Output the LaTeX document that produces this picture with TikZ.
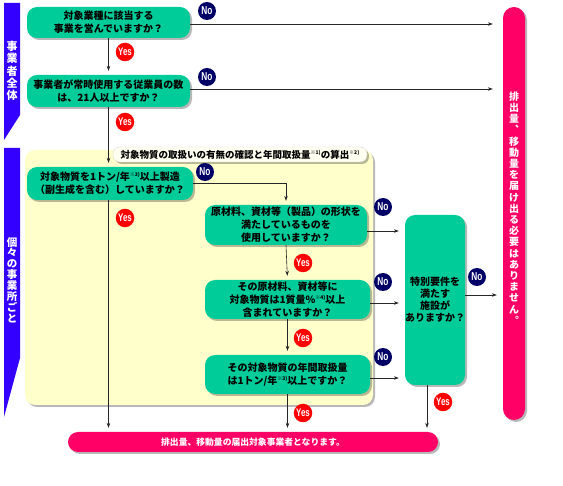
\documentclass[tikz,border=0pt]{standalone}
\usepackage{fontspec}
\setmainfont{Noto Sans CJK JP}
\newfontfamily\latinfont{Liberation Sans}
\usetikzlibrary{shadows,arrows.meta,calc}
\definecolor{boxgreen}{HTML}{00CC99}
\definecolor{pinkred}{HTML}{FF0066}
\definecolor{sideblue}{HTML}{3300FF}
\definecolor{navyblue}{HTML}{000066}
\definecolor{yesred}{HTML}{FF0000}
\definecolor{paleyellow}{HTML}{FFFFCC}
\definecolor{labelfill}{HTML}{FFFFF2}
\newcommand\noteup[1]{\raisebox{0.75ex}{\fontsize{5}{5}\selectfont #1}}
\newcommand\bub[1]{\scalebox{0.72}[1]{#1}}
\begin{document}
\begin{tikzpicture}[x=1pt,y=-1pt,
  shad/.style={drop shadow={shadow xshift=2pt,shadow yshift=-2pt,fill=black,opacity=0.28}},
  qbox/.style={fill=boxgreen, rounded corners=10pt, align=center, inner sep=0pt,
    font=\fontsize{10}{13}\selectfont\bfseries, shad},
  nobub/.style={circle, fill=navyblue, text=white, minimum size=18pt, inner sep=0pt,
    font=\latinfont\bfseries\fontsize{11.5}{11.5}\selectfont},
  yesbub/.style={circle, fill=yesred, text=white, minimum size=18.5pt, inner sep=0pt,
    font=\latinfont\bfseries\fontsize{11}{11}\selectfont},
  arr/.style={draw=black!85, line width=0.6pt, -{Stealth[length=5pt,width=3.6pt]}, shorten >=4pt},
  vtext/.style={text=white, align=center, inner sep=0pt, font=\bfseries},
]
\useasboundingbox (0,0) rectangle (563,486);

% side bars
\fill[sideblue] (4,3) -- (20,3) -- (20,115) -- (4,140) -- cycle;
\fill[sideblue] (4,148) -- (20,148) -- (20,358) -- (4,417) -- cycle;
\node[vtext, font=\fontsize{11}{12.2}\selectfont\bfseries] (side1) at (12,71) {事\\業\\者\\全\\体};
\node[vtext, font=\fontsize{10.5}{10.9}\selectfont\bfseries] (side2) at (12,280) {個\\々\\の\\事\\業\\所\\ご\\と};

% yellow region
\node[fill=paleyellow, rounded corners=10pt, minimum width=348pt, minimum height=255pt, shad] (yel) at (199,277.5) {};
\node[fill=labelfill, draw=black!15, rounded corners=7pt, minimum width=254pt, minimum height=15pt, inner sep=0pt,
  font=\fontsize{9.5}{10}\selectfont\bfseries, shad] (title) at (240,154.5)
  {対象物質の取扱いの有無の確認と年間取扱量\noteup{※1)}の算出\noteup{※2)}};

% right bar
\node[fill=pinkred, rounded corners=11pt, minimum width=22pt, minimum height=413pt, shad] (nores) at (514,213.5) {};
\node[vtext, font=\fontsize{10}{11.2}\selectfont\bfseries] (noresT) at (514,208)
  {排\\出\\量\\︑\\移\\動\\量\\を\\届\\け\\出\\る\\必\\要\\は\\あ\\り\\ま\\せ\\ん\\︒};

% question boxes
\node[qbox, minimum width=163pt, minimum height=31pt] (b1) at (108.5,22.5) {対象業種に該当する\\事業を営んでいますか？};
\node[qbox, minimum width=163pt, minimum height=32pt] (b2) at (108.5,91) {事業者が常時使用する従業員の数\\は、21人以上ですか？};
\node[qbox, minimum width=166pt, minimum height=33pt] (b3) at (110,183.5) {対象物質を1トン/年\noteup{※3)}以上製造\\（副生成を含む）していますか？};
\node[qbox, minimum width=162pt, minimum height=40pt] (b4) at (286,225) {原材料、資材等（製品）の形状を\\満たしているものを\\使用していますか？};
\node[qbox, minimum width=165pt, minimum height=39pt] (b5) at (287.5,299.5) {その原材料、資材等に\\対象物質は1質量\%\noteup{※4)}以上\\含まれていますか？};
\node[qbox, minimum width=165pt, minimum height=39pt] (b6) at (287.5,374.5) {その対象物質の年間取扱量\\は1トン/年\noteup{※3)}以上ですか？};
\node[qbox, minimum width=60pt, minimum height=170pt, font=\fontsize{10}{12}\selectfont\bfseries] (sp) at (435,300) {特別要件を\\満たす\\施設が\\ありますか？};

% bottom result
\node[fill=pinkred, rounded corners=10pt, minimum width=370pt, minimum height=20pt, inner sep=0pt, text=white,
  font=\fontsize{8.8}{10}\selectfont\bfseries, shad] (bot) at (253,442) {排出量、移動量の届出対象事業者となります。};

% connectors
\draw[arr] (b1.south) -- (b2.north);
\draw[arr] (b2.south) -- (b2.south |- b3.north);
\draw[arr] (b3.south -| b2.south) -- (b2.south |- bot.north);
\draw[arr, shorten >=10pt] ([yshift=-1.5pt]b1.east) -- ([yshift=-1.5pt]b1.east -| nores.west);
\draw[arr, shorten >=10pt] ([yshift=2pt]b2.east) -- ([yshift=2pt]b2.east -| nores.west);
\draw[arr] (b3.east) -| (b4.north);
\draw[arr] (b4.south) -- (b5.north);
\draw[arr] (b5.south) -- (b6.north);
\draw[arr] (b6.south) -- (b6.south |- bot.north);
\draw[arr, shorten >=6pt] ([yshift=-6pt]b4.east) -- ([yshift=-6pt]b4.east -| sp.west);
\draw[arr, shorten >=6pt] ([yshift=-3.5pt]b5.east) -- ([yshift=-3.5pt]b5.east -| sp.west);
\draw[arr, shorten >=6pt] ([yshift=-3.5pt]b6.east) -- ([yshift=-3.5pt]b6.east -| sp.west);
\draw[arr, shorten >=6pt] ([yshift=5pt]sp.east) -- ([yshift=5pt]sp.east -| nores.west);
\path ([xshift=-8pt]sp.south) coordinate (spb);
\draw[arr] (spb) -- (spb |- bot.north);

% yes / no marks
\node[nobub] (n1) at (207,11) {\bub{No}};
\node[yesbub] (y1) at (125,52) {\bub{Yes}};
\node[nobub] (n2) at (207,77) {\bub{No}};
\node[yesbub] (y2) at (125,122) {\bub{Yes}};
\node[nobub] (n3) at (205,172) {\bub{No}};
\node[yesbub] (y3) at (125,218) {\bub{Yes}};
\node[nobub] (n4) at (383,207) {\bub{No}};
\node[yesbub] (y4) at (303,263) {\bub{Yes}};
\node[nobub] (n5) at (383,282) {\bub{No}};
\node[yesbub] (y5) at (303,338) {\bub{Yes}};
\node[nobub] (n6) at (383,357) {\bub{No}};
\node[yesbub] (y6) at (303,413) {\bub{Yes}};
\node[nobub] (n7) at (477,277) {\bub{No}};
\node[yesbub] (y7) at (443,402) {\bub{Yes}};
\end{tikzpicture}
\end{document}
